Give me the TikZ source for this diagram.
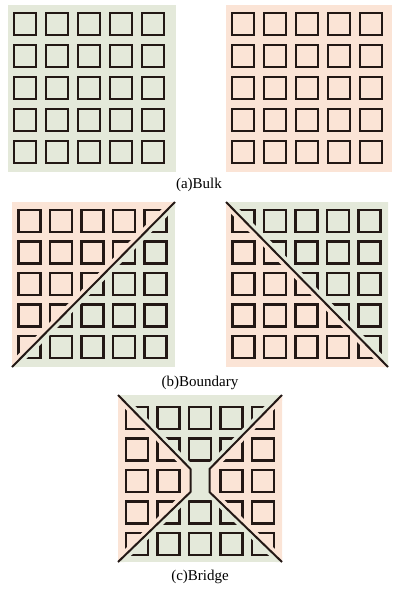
\documentclass[tikz,border=0pt]{standalone}
\usepackage{fontspec}
\setmainfont{Liberation Serif}
\usetikzlibrary{positioning}

\definecolor{sage}{HTML}{E4E9DA}
\definecolor{peach}{HTML}{FBE4D6}
\definecolor{ink}{HTML}{231815}

\tikzset{
  cell/.style={draw=ink, line width=2.2pt},
  cut/.style={draw=ink, line width=2pt, line join=round},
  gap/.style={line width=9pt, line join=round},
  caption/.style={font=\fontsize{15}{18}\selectfont},
}

% 5x5 cells: x0, y0, pitch (cell (\skipi,\skipj) left out)
\newcommand{\cellgrid}[3]{%
  \foreach \i in {0,...,4}
    \foreach \j in {0,...,4}{
      \ifnum\numexpr\i*10+\j\relax=\skipcell\relax\else
        \draw[cell] (#1+#3*\i,#2+#3*\j) rectangle ++(22,22);
      \fi}%
}
\def\skipcell{99}

\begin{document}
\begin{tikzpicture}[x=1pt, y=-1pt]
			\useasboundingbox (0,0) rectangle (406,589);
			%(a) bulk
			\fill[sage] (8,5) rectangle (176,172);
			\fill[peach] (226,5) rectangle (392,172);
			\cellgrid{14}{13}{32}
			\cellgrid{232}{13}{32}
			\node[caption] (capa) at (199,185) {(a)Bulk};
			%(b) boundary
			\coordinate (bl-tl) at (12,202);
			\coordinate (bl-tr) at (175,202);
			\coordinate (bl-bl) at (12,367);
			\coordinate (bl-br) at (175,367);
			\coordinate (br-tl) at (226,202);
			\coordinate (br-tr) at (388,202);
			\coordinate (br-bl) at (226,367);
			\coordinate (br-br) at (388,367);
			\fill[sage] (bl-tl) rectangle (bl-br);
			\fill[peach] (bl-tl) -- (bl-tr) -- (bl-bl) -- cycle;
			\fill[peach] (br-tl) rectangle (br-br);
			\fill[sage] (br-tl) -- (br-tr) -- (br-br) -- cycle;
			\cellgrid{18.5}{210}{31.5}
			\cellgrid{232.5}{210}{31.5}
			\begin{scope}
				\clip (bl-tl) -- (bl-tr) -- (bl-bl) -- cycle;
				\draw[gap, peach] (bl-bl) -- (bl-tr);
			\end{scope}
			\begin{scope}
				\clip (bl-br) -- (bl-tr) -- (bl-bl) -- cycle;
				\draw[gap, sage] (bl-bl) -- (bl-tr);
			\end{scope}
			\begin{scope}
				\clip (br-tl) -- (br-bl) -- (br-br) -- cycle;
				\draw[gap, peach] (br-tl) -- (br-br);
			\end{scope}
			\begin{scope}
				\clip (br-tl) -- (br-tr) -- (br-br) -- cycle;
				\draw[gap, sage] (br-tl) -- (br-br);
			\end{scope}
			\draw[cut] (bl-bl) -- (bl-tr);
			\draw[cut] (br-tl) -- (br-br);
			\node[caption] (capb) at (200,383) {(b)Boundary};
			%(c) bridge
			\coordinate (c-tl) at (118,395);
			\coordinate (c-tr) at (282,395);
			\coordinate (c-bl) at (118,562);
			\coordinate (c-br) at (282,562);
			\coordinate (n-lt) at (190.5,469);
			\coordinate (n-lb) at (190.5,492);
			\coordinate (n-rt) at (209.5,469);
			\coordinate (n-rb) at (209.5,492);
			\fill[sage] (c-tl) rectangle (c-br);
			\fill[peach] (c-tl) -- (n-lt) -- (n-lb) -- (c-bl) -- cycle;
			\fill[peach] (c-tr) -- (n-rt) -- (n-rb) -- (c-br) -- cycle;
			\def\skipcell{22}
			\cellgrid{126}{407}{31.5}
			\def\skipcell{99}
			\begin{scope}
				\clip (c-tl) -- (n-lt) -- (n-lb) -- (c-bl) -- cycle;
				\draw[gap, peach] (c-tl) -- (n-lt) -- (n-lb) -- (c-bl);
			\end{scope}
			\begin{scope}
				\clip (c-tr) -- (n-rt) -- (n-rb) -- (c-br) -- cycle;
				\draw[gap, peach] (c-tr) -- (n-rt) -- (n-rb) -- (c-br);
			\end{scope}
			\begin{scope}
				\clip (c-tl) -- (c-tr) -- (n-rt) -- (n-rb) -- (c-br) -- (c-bl) -- (n-lb) -- (n-lt) -- cycle;
				\draw[gap, sage] (c-tl) -- (n-lt) -- (n-lb) -- (c-bl);
				\draw[gap, sage] (c-tr) -- (n-rt) -- (n-rb) -- (c-br);
			\end{scope}
			\draw[cut] (c-tl) -- (n-lt) -- (n-lb) -- (c-bl);
			\draw[cut] (c-tr) -- (n-rt) -- (n-rb) -- (c-br);
			\node[caption] (capc) at (200,577) {(c)Bridge};
\end{tikzpicture}
\end{document}
